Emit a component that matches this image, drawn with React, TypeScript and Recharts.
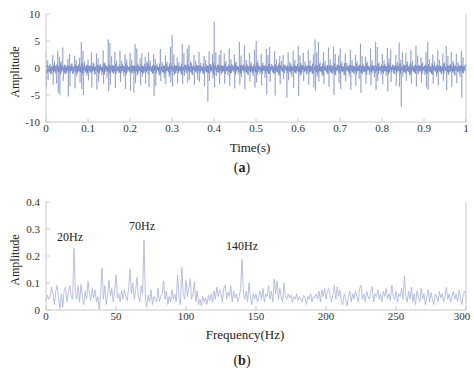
import { LineChart, Line, XAxis, YAxis } from "recharts";

const signal = [
  2.7, -3.5, 0.5, -0.9, 1.4, -2.2, 0.3, -0.6, 0.5, -0.8, 0.8, -1.1, 0.3, -1.1, 0.2, -0.5, 2.4, -3.1, 0.6, -0.8,
  1.2, -0.6, 0.4, -1.0, 0.4, -2.8, 0.7, -0.6, 3.2, -4.6, 0.3, -0.8, 2.1, -5.0, 0.9, -1.2, 1.3, -0.7, 0.5, -0.4,
  3.8, -2.4, 0.2, -0.7, 0.6, -1.2, 0.6, -1.0, 0.2, -0.9, 0.4, -0.5, 1.7, -5.3, 0.5, -0.9, 2.6, -3.4, 0.3, -0.6,
  0.8, -0.5, 0.8, -1.1, 0.3, -1.0, 0.2, -0.5, 2.3, -3.8, 0.6, -0.8, 1.5, -1.6, 0.4, -1.0, 0.4, -0.7, 0.7, -0.6,
  1.9, -2.7, 0.3, -0.8, 4.8, -3.9, 0.9, -1.2, 3.1, -5.0, 0.5, -0.4, 1.2, -0.9, 0.2, -0.7, 0.5, -1.4, 0.6, -1.0,
  1.6, -2.3, 0.4, -0.5, 0.4, -0.8, 0.5, -0.9, 2.9, -3.6, 0.3, -0.6, 1.1, -0.5, 0.8, -1.1, 0.3, -1.2, 0.2, -0.5,
  2.7, -4.0, 0.6, -0.8, 1.8, -2.5, 0.4, -1.0, 0.6, -0.4, 0.7, -0.6, 0.2, -1.3, 0.3, -0.8, 3.3, -2.9, 0.9, -1.2,
  1.0, -0.7, 0.5, -0.4, 0.4, -1.8, 0.2, -0.7, 5.3, -4.3, 0.6, -1.0, 4.6, -3.1, 0.4, -0.5, 2.2, -0.8, 0.5, -0.9,
  0.5, -1.1, 0.3, -0.6, 3.0, -3.7, 0.8, -1.1, 1.4, -0.6, 0.2, -0.5, 0.3, -0.9, 0.6, -0.8, 3.2, -2.6, 0.4, -1.0,
  1.3, -0.5, 0.7, -0.6, 0.4, -1.5, 0.3, -0.8, 2.5, -3.9, 0.9, -1.2, 1.6, -0.8, 0.5, -0.4, 0.2, -0.6, 0.2, -0.7,
  2.8, -4.2, 0.6, -1.0, 1.5, -0.9, 0.4, -0.5, 0.4, -4.5, 0.5, -0.9, 4.4, -2.8, 0.3, -0.6, 3.6, -1.4, 0.8, -1.1,
  0.5, -0.7, 0.2, -0.5, 1.8, -3.2, 0.6, -0.8, 2.7, -1.6, 0.4, -1.0, 0.3, -0.9, 0.7, -0.6, 2.1, -2.9, 0.3, -0.8,
  1.2, -0.5, 0.9, -1.2, 2.9, -3.5, 0.5, -0.4, 1.4, -0.6, 0.2, -0.7, 0.3, -1.1, 0.6, -1.0, 2.6, -5.2, 0.4, -0.5,
  1.7, -3.3, 0.5, -0.9, 0.8, -0.4, 0.3, -0.6, 0.2, -1.4, 0.8, -1.1, 3.5, -2.4, 0.2, -0.5, 1.1, -0.8, 0.6, -0.8,
  0.4, -1.9, 0.4, -1.0, 2.3, -3.0, 0.7, -0.6, 1.2, -0.5, 0.3, -0.8, 0.3, -1.6, 0.9, -1.2, 3.9, -2.7, 0.5, -0.4,
  6.1, -3.4, 0.2, -0.7, 2.5, -1.3, 0.6, -1.0, 0.4, -0.9, 0.4, -0.5, 2.0, -2.8, 0.5, -0.9, 1.1, -0.6, 0.3, -0.6,
  0.3, -1.2, 0.8, -1.1, 4.5, -3.0, 0.2, -0.5, 2.8, -1.5, 0.6, -0.8, 0.6, -0.4, 0.4, -1.0, 3.6, -2.7, 0.7, -0.6,
  4.3, -2.2, 0.3, -0.8, 1.2, -0.7, 0.9, -1.2, 0.3, -1.3, 0.5, -0.4, 2.4, -3.1, 0.2, -0.7, 1.4, -0.6, 0.6, -1.0,
  0.5, -2.2, 0.4, -0.5, 3.0, -2.6, 0.5, -0.9, 1.0, -0.5, 0.3, -0.6, 0.2, -1.0, 0.8, -1.1, 2.2, -3.4, 0.2, -0.5,
  1.5, -0.8, 0.6, -0.8, 0.4, -6.2, 0.4, -1.0, 3.1, -2.4, 0.7, -0.6, 0.7, -0.5, 0.3, -0.8, 2.6, -1.9, 0.9, -1.2,
  8.6, -3.6, 0.5, -0.4, 2.9, -1.5, 0.2, -0.7, 0.6, -0.8, 0.6, -1.0, 2.4, -3.0, 0.4, -0.5, 3.3, -1.2, 0.5, -0.9,
  0.4, -0.7, 0.3, -0.6, 2.7, -2.9, 0.8, -1.1, 1.3, -0.6, 0.2, -0.5, 0.3, -1.4, 0.6, -0.8, 3.6, -3.3, 0.4, -1.0,
  1.6, -0.9, 0.7, -0.6, 0.5, -0.4, 0.3, -0.8, 2.5, -3.8, 0.9, -1.2, 1.2, -0.6, 0.5, -0.4, 0.3, -1.1, 0.2, -0.7,
  4.8, -3.1, 0.6, -1.0, 2.3, -1.7, 0.4, -0.5, 0.6, -0.5, 0.5, -0.9, 4.2, -4.0, 0.3, -0.6, 1.5, -0.8, 0.8, -1.1,
  0.4, -1.3, 0.2, -0.5, 2.8, -2.5, 0.6, -0.8, 1.1, -0.6, 0.4, -1.0, 0.2, -1.5, 0.7, -0.6, 3.4, -3.6, 0.3, -0.8,
  5.0, -2.7, 0.9, -1.2, 1.4, -0.7, 0.5, -0.4, 0.3, -1.2, 0.2, -0.7, 2.6, -3.3, 0.6, -1.0, 1.0, -0.5, 0.4, -0.5,
  0.4, -1.8, 0.5, -0.9, 3.5, -4.9, 0.3, -0.6, 2.4, -1.1, 0.8, -1.1, 3.9, -2.6, 0.2, -0.5, 0.7, -0.4, 0.6, -0.8,
  0.3, -1.0, 0.4, -1.0, 3.1, -5.1, 0.7, -0.6, 1.6, -0.8, 0.3, -0.8, 0.5, -1.4, 0.9, -1.2, 2.2, -3.0, 0.5, -0.4,
  1.3, -0.6, 0.2, -0.7, 2.4, -2.1, 0.6, -1.0, 0.6, -0.3, 0.4, -0.5, 0.2, -5.5, 0.5, -0.9, 2.9, -2.3, 0.3, -0.6,
  1.1, -0.7, 0.8, -1.1, 0.4, -1.6, 0.2, -0.5, 3.2, -3.7, 0.6, -0.8, 1.5, -0.9, 0.4, -1.0, 0.3, -0.6, 0.7, -0.6,
  4.1, -5.2, 0.3, -0.8, 2.3, -1.4, 0.9, -1.2, 0.5, -0.8, 0.5, -0.4, 2.8, -2.4, 0.2, -0.7, 1.2, -0.5, 0.6, -1.0,
  0.3, -1.3, 0.4, -0.5, 3.3, -3.1, 0.5, -0.9, 1.4, -0.7, 0.3, -0.6, 0.4, -1.1, 0.8, -1.1, 2.5, -3.6, 0.2, -0.5,
  5.3, -4.2, 0.6, -0.8, 2.9, -1.6, 0.4, -1.0, 4.8, -2.5, 0.7, -0.6, 1.1, -0.6, 0.3, -0.8, 0.3, -1.5, 0.9, -1.2,
  2.9, -3.0, 0.5, -0.4, 1.3, -0.5, 0.2, -0.7, 0.4, -1.2, 0.6, -1.0, 3.8, -3.5, 0.4, -0.5, 1.6, -0.8, 0.5, -0.9,
  0.5, -1.1, 0.3, -0.6, 4.0, -5.0, 0.8, -1.1, 2.6, -1.4, 0.2, -0.5, 0.6, -0.4, 0.6, -0.8, 2.3, -2.8, 0.4, -1.0,
  3.6, -3.9, 0.7, -0.6, 1.2, -0.6, 0.3, -0.8, 0.3, -1.4, 0.9, -1.2, 2.7, -2.5, 0.5, -0.4, 1.0, -0.5, 0.2, -0.7,
  0.4, -1.6, 0.6, -1.0, 3.4, -4.1, 0.4, -0.5, 1.5, -0.7, 0.5, -0.9, 0.3, -1.2, 0.3, -0.6, 2.4, -3.3, 0.8, -1.1,
  1.3, -0.6, 0.2, -0.5, 0.5, -2.0, 0.6, -0.8, 4.5, -4.6, 0.4, -1.0, 2.2, -1.1, 0.7, -0.6, 0.4, -0.7, 0.3, -0.8,
  2.1, -2.9, 0.9, -1.2, 1.2, -0.5, 0.5, -0.4, 0.3, -1.3, 0.2, -0.7, 3.6, -3.2, 0.6, -1.0, 1.4, -0.6, 0.4, -0.5,
  0.4, -1.7, 0.5, -0.9, 4.8, -4.0, 0.3, -0.6, 3.9, -2.4, 0.8, -1.1, 1.0, -0.5, 0.2, -0.5, 0.3, -1.2, 0.6, -0.8,
  2.6, -3.0, 0.4, -1.0, 1.4, -0.6, 0.7, -0.6, 0.4, -1.5, 0.3, -0.8, 3.7, -4.3, 0.9, -1.2, 1.8, -0.8, 0.5, -0.4,
  3.4, -2.6, 0.2, -0.7, 0.6, -0.4, 0.6, -1.0, 0.3, -1.1, 0.4, -0.5, 2.4, -3.3, 0.5, -0.9, 1.1, -0.5, 0.3, -0.6,
  4.7, -3.5, 0.8, -1.1, 1.5, -7.2, 0.2, -0.5, 2.9, -1.6, 0.6, -0.8, 0.6, -0.8, 0.4, -1.0, 2.8, -2.4, 0.7, -0.6,
  1.2, -0.6, 0.3, -0.8, 0.3, -1.4, 0.9, -1.2, 3.3, -2.9, 0.5, -0.4, 1.3, -0.7, 0.2, -0.7, 0.4, -1.0, 0.6, -1.0,
  4.1, -3.4, 0.4, -0.5, 2.3, -1.2, 0.5, -0.9, 0.5, -0.6, 0.3, -0.6, 2.0, -2.7, 0.8, -1.1, 1.0, -0.5, 0.2, -0.5,
  0.4, -1.3, 0.6, -0.8, 2.9, -3.6, 0.4, -1.0, 4.8, -4.0, 0.7, -0.6, 1.6, -0.8, 0.3, -0.8, 0.3, -1.1, 0.9, -1.2,
  2.5, -2.9, 0.5, -0.4, 1.2, -0.6, 0.2, -0.7, 0.4, -1.6, 0.6, -1.0, 3.3, -3.2, 0.4, -0.5, 1.5, -0.7, 0.5, -0.9,
  0.3, -1.2, 0.3, -0.6, 2.7, -2.4, 0.8, -1.1, 1.0, -0.5, 0.2, -0.5, 4.1, -4.1, 0.6, -0.8, 2.2, -1.3, 0.4, -1.0,
  0.5, -0.7, 0.7, -0.6, 3.0, -3.5, 0.3, -0.8, 1.3, -0.6, 0.9, -1.2, 0.3, -1.4, 0.5, -0.4, 2.6, -2.8, 0.2, -0.7,
  1.1, -0.6, 0.6, -1.0, 0.4, -1.7, 0.4, -0.5, 3.2, -5.5, 0.5, -0.9, 2.0, -1.0, 0.3, -0.6, 0.5, -0.3, 0.8, -1.1,
];

// (b) amplitude spectrum, one value per Hz from 0 to 300
const spectrum = [
  0.03, 0.055, 0.04, 0.05, 0.085, 0.06, 0.02, 0.07, 0.09, 0.04,
  0.005, 0.06, 0.01, 0.075, 0.085, 0.03, 0.07, 0.09, 0.05, 0.04,
  0.228, 0.06, 0.04, 0.09, 0.03, 0.095, 0.05, 0.02, 0.07, 0.04,
  0.105, 0.06, 0.035, 0.08, 0.045, 0.075, 0.03, 0.05, 0.003, 0.06,
  0.156, 0.04, 0.09, 0.02, 0.06, 0.11, 0.05, 0.08, 0.03, 0.07,
  0.13, 0.045, 0.06, 0.03, 0.07, 0.04, 0.075, 0.05, 0.035, 0.08,
  0.152, 0.06, 0.1, 0.04, 0.07, 0.12, 0.05, 0.03, 0.09, 0.06,
  0.259, 0.04, 0.01, 0.055, 0.03, 0.074, 0.02, 0.05, 0.04, 0.03,
  0.08, 0.03, 0.05, 0.06, 0.108, 0.04, 0.07, 0.02, 0.05, 0.03,
  0.075, 0.04, 0.06, 0.03, 0.13, 0.05, 0.02, 0.158, 0.06, 0.04,
  0.11, 0.05, 0.08, 0.115, 0.04, 0.06, 0.104, 0.03, 0.07, 0.02,
  0.04, 0.015, 0.05, 0.03, 0.045, 0.02, 0.055, 0.035, 0.06, 0.03,
  0.07, 0.04, 0.085, 0.05, 0.075, 0.06, 0.03, 0.08, 0.092, 0.04,
  0.065, 0.05, 0.09, 0.03, 0.07, 0.045, 0.06, 0.03, 0.05, 0.08,
  0.188, 0.06, 0.04, 0.07, 0.03, 0.1, 0.05, 0.02, 0.06, 0.04,
  0.06, 0.03, 0.05, 0.07, 0.04, 0.08, 0.03, 0.06, 0.05, 0.09,
  0.04, 0.07, 0.03, 0.114, 0.06, 0.108, 0.04, 0.08, 0.05, 0.03,
  0.1, 0.05, 0.04, 0.06, 0.045, 0.055, 0.03, 0.05, 0.04, 0.06,
  0.035, 0.05, 0.04, 0.03, 0.055, 0.045, 0.02, 0.05, 0.04, 0.06,
  0.03, 0.05, 0.045, 0.06, 0.04, 0.07, 0.03, 0.075, 0.05, 0.08,
  0.04, 0.07, 0.08, 0.05, 0.03, 0.06, 0.09, 0.04, 0.086, 0.05,
  0.074, 0.03, 0.02, 0.06, 0.04, 0.015, 0.05, 0.07, 0.03, 0.06,
  0.04, 0.07, 0.05, 0.03, 0.08, 0.092, 0.04, 0.06, 0.03, 0.07,
  0.05, 0.04, 0.07, 0.086, 0.03, 0.06, 0.05, 0.075, 0.04, 0.06,
  0.03, 0.07, 0.05, 0.08, 0.04, 0.06, 0.035, 0.092, 0.05, 0.04,
  0.07, 0.03, 0.06, 0.05, 0.08, 0.04, 0.126, 0.05, 0.03, 0.07,
  0.04, 0.085, 0.03, 0.06, 0.02, 0.07, 0.05, 0.03, 0.08, 0.04,
  0.06, 0.02, 0.05, 0.075, 0.03, 0.065, 0.04, 0.02, 0.06, 0.05,
  0.03, 0.07, 0.045, 0.06, 0.03, 0.05, 0.084, 0.04, 0.06, 0.03,
  0.05, 0.07, 0.04, 0.06, 0.03, 0.074, 0.05, 0.02, 0.06, 0.07,
  0.04,
];

const timeTicks = [0, 0.1, 0.2, 0.3, 0.4, 0.5, 0.6, 0.7, 0.8, 0.9, 1];
const ampTicks = [-10, -5, 0, 5, 10];
const freqTicks = [0, 50, 100, 150, 200, 250, 300];
const specTicks = [0, 0.1, 0.2, 0.3, 0.4];

const peakLabels = [
  { text: "20Hz", x: 70, y: 237 },
  { text: "70Hz", x: 142, y: 226 },
  { text: "140Hz", x: 242, y: 246 },
];

const timeData = signal.map((v, i) => ({ t: i / (signal.length - 1), v }));
const specData = spectrum.map((v, i) => ({ f: i, v }));

const FONT = "'Liberation Serif', 'Times New Roman', serif";
const AXIS = "#c9c9c9";

// tick labels drawn by hand so the serif face sticks
const BottomTick = (props: any) => (
  <text x={props.x} y={props.y} dy="0.71em" textAnchor="middle" fill="#333" fontSize={11} style={{ fontFamily: FONT }}>
    {props.payload.value}
  </text>
);
const LeftTick = (props: any) => (
  <text x={props.x} y={props.y} dy="0.355em" textAnchor="end" fill="#333" fontSize={11} style={{ fontFamily: FONT }}>
    {props.payload.value}
  </text>
);

const text = (extra: React.CSSProperties): React.CSSProperties => ({
  position: "absolute",
  fontFamily: FONT,
  color: "#222",
  whiteSpace: "nowrap",
  transform: "translate(-50%, -50%)",
  ...extra,
});

export default function App() {
  return (
    <div style={{ position: "absolute", left: 0, top: 0, width: 474, height: 378, background: "#fff", fontFamily: FONT }}>
      <div style={{ position: "absolute", left: 0, top: 0 }}>
        <LineChart width={474} height={190} data={timeData} margin={{ top: 14, right: 0, left: 0, bottom: 38 }}>
          <XAxis
            dataKey="t"
            type="number"
            domain={[0, 1]}
            ticks={timeTicks}
            stroke={AXIS}
            tick={BottomTick}
            tickSize={-4}
            tickMargin={6}
            height={30}
          />
          <XAxis
            xAxisId="top"
            orientation="top"
            type="number"
            domain={[0, 1]}
            ticks={timeTicks}
            stroke={AXIS}
            tickFormatter={() => ""}
            tickSize={-4}
            height={0}
          />
          <YAxis
            type="number"
            domain={[-10, 10]}
            ticks={ampTicks}
            stroke={AXIS}
            tick={LeftTick}
            tickSize={-4}
            tickMargin={10}
            width={46}
            allowDataOverflow
          />
          <YAxis
            yAxisId="right"
            orientation="right"
            type="number"
            domain={[-10, 10]}
            ticks={ampTicks}
            stroke={AXIS}
            tickFormatter={() => ""}
            tickSize={-4}
            width={8}
          />
          <Line
            dataKey="v"
            type="linear"
            stroke="#2242a2"
            strokeWidth={0.5}
            strokeOpacity={0.62}
            dot={false}
            isAnimationActive={false}
          />
        </LineChart>
      </div>

      <div style={{ position: "absolute", left: 0, top: 190 }}>
        <LineChart width={474} height={188} data={specData} margin={{ top: 12, right: 0, left: 0, bottom: 38 }}>
          <XAxis
            dataKey="f"
            type="number"
            domain={[0, 300]}
            ticks={freqTicks}
            stroke={AXIS}
            tick={BottomTick}
            tickSize={-4}
            tickMargin={6}
            height={30}
          />
          <XAxis
            xAxisId="top"
            orientation="top"
            type="number"
            domain={[0, 300]}
            ticks={freqTicks}
            stroke={AXIS}
            tickFormatter={() => ""}
            tickSize={-4}
            height={0}
          />
          <YAxis
            type="number"
            domain={[0, 0.4]}
            ticks={specTicks}
            stroke={AXIS}
            tick={LeftTick}
            tickSize={-4}
            tickMargin={10}
            width={46}
          />
          <YAxis
            yAxisId="right"
            orientation="right"
            type="number"
            domain={[0, 0.4]}
            ticks={specTicks}
            stroke={AXIS}
            tickFormatter={() => ""}
            tickSize={-4}
            width={8}
          />
          <Line
            dataKey="v"
            type="linear"
            stroke="#a7b0db"
            strokeWidth={0.8}
            dot={false}
            isAnimationActive={false}
          />
        </LineChart>
      </div>

      <div style={text({ left: 15, top: 72, fontSize: 12, transform: "translate(-50%, -50%) rotate(-90deg)" })}>Amplitude</div>
      <div style={text({ left: 250, top: 148, fontSize: 13 })}>Time(s)</div>
      <div style={text({ left: 242, top: 168, fontSize: 14 })}>
        (<b>a</b>)
      </div>

      <div style={text({ left: 15, top: 260, fontSize: 12, transform: "translate(-50%, -50%) rotate(-90deg)" })}>Amplitude</div>
      <div style={text({ left: 245, top: 335, fontSize: 13 })}>Frequency(Hz)</div>
      <div style={text({ left: 242, top: 361, fontSize: 14 })}>
        (<b>b</b>)
      </div>

      {peakLabels.map((p) => (
        <div key={p.text} style={text({ left: p.x, top: p.y, fontSize: 12 })}>
          {p.text}
        </div>
      ))}
    </div>
  );
}
